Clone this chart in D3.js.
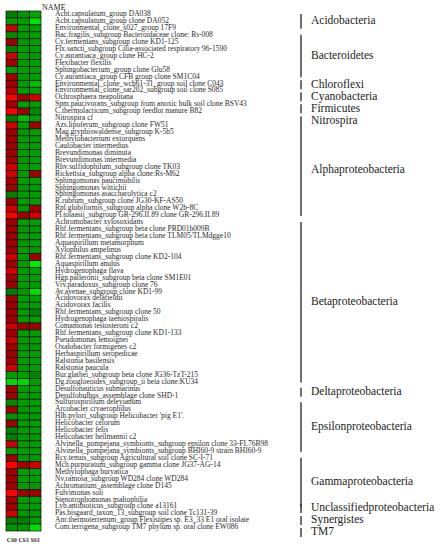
<!DOCTYPE html>
<html><head><meta charset="utf-8">
<script src="https://cdn.jsdelivr.net/npm/d3@7"></script>
<style>html,body{margin:0;padding:0;background:#fff;}svg{display:block;}</style>
</head><body>
<svg id="chart" width="441" height="550"></svg>
<script>
const taxa = [
"Acbt.capsulatum_group DA038",
"Acbt.capsulatum_group clone DA052",
"Environmental_clone_s027_group 17F9",
"Bac.fragilis_subgroup Bacteroidaceae clone: Rs-008",
"Cy.fermentans_subgroup clone KD1-125",
"Flx.sancti_subgroup Cilia-associated respiratory 96-1590",
"Cy.aurantiaca_group clone HC-2",
"Flexibacter flexilis",
"Sphingobacterium_group clone Glu58",
"Cy.aurantiaca_group CFB group clone SM1C04",
"Environmental_clone_wcb61-31_group soil clone C043",
"Environmental_clone_sar202_subgroup soil clone S085",
"Ochrosphaera neapolitana",
"Spm.paucivorans_subgroup from anoxic bulk soil clone BSV43",
"C.thermolacticum_subgroup feedlot manure B82",
"Nitrospira cf",
"Azs.lipoferum_subgroup clone FW51",
"Mag.gryphiswaldense_subgroup K-5b5",
"Methylobacterium extorquens",
"Caulobacter intermedius",
"Brevundimonas diminuta",
"Brevundimonas intermedia",
"Rhv.sulfidophilum_subgroup clone TK03",
"Rickettsia_subgroup alpha clone:Rs-M62",
"Sphingomonas paucimobilis",
"Sphingomonas wittichii",
"Sphingomonas asaccharolytica c2",
"R.rubrum_subgroup clone JG30-KF-AS50",
"Rpl.globiformis_subgroup alpha clone W2b-8C",
"Pl.tolaasii_subgroup GR-296.II.89 clone GR-296.II.89",
"Achromobacter xylosoxidans",
"Rhf.fermentans_subgroup beta clone PRD01b009B",
"Rhf.fermentans_subgroup beta clone TLM05/TLMdgge10",
"Aquaspirillum metamorphum",
"Xylophilus ampelinus",
"Rhf.fermentans_subgroup clone KD2-104",
"Aquaspirillum anulus",
"Hydrogenophaga flava",
"Hgp.palleronii_subgroup beta clone SM1E01",
"Vrv.paradoxus_subgroup clone 76",
"Av.avenae_subgroup clone KD1-99",
"Acidovorax delafieldii",
"Acidovorax facilis",
"Rhf.fermentans_subgroup clone 50",
"Hydrogenophaga taeniospiralis",
"Comamonas testosteroni c2",
"Rhf.fermentans_subgroup clone KD1-133",
"Pseudomonas lemoignei",
"Oxalobacter formigenes c2",
"Herbaspirillum seropedicae",
"Ralstonia basilensis",
"Ralstonia paucula",
"Bur.glathei_subgroup beta clone JG36-TzT-215",
"Dg.zoogloeoides_subgroup_ii beta clone:KU34",
"Desulfonauticus submarinus",
"Desulfobulbus_assemblage clone SHD-1",
"Sulfurospirillum deleyianum",
"Arcobacter cryaerophilus",
"Hlb.pylori_subgroup Helicobacter 'pig E1'.",
"Helicobacter celorum",
"Helicobacter felis",
"Helicobacter heilmannii c2",
"Alvinella_pompejana_symbionts_subgroup epsilon clone 33-FL76B98",
"Alvinella_pompejana_symbionts_subgroup BHI60-9 strain BHI60-9",
"Rcy.tenuis_subgroup Agricultural soil clone SC-I-71",
"Mch.purpuratum_subgroup gamma clone JG37-AG-14",
"Methylophaga buryatica",
"Nv.ramosa_subgroup WD284 clone WD284",
"Achromatium_assemblage clone D145",
"Fulvimonas soli",
"Stenotrophomonas maltophilia",
"Lyb.antibioticus_subgroup clone a13161",
"Pas.bisgaard_taxon_13_subgroup soil clone Tc131-39",
"Anr.thermoterrenum_group Flexistipes sp. E3_33 E1 oral isolate",
"Com.terrigena_subgroup TM7 phylum sp. oral clone EW086"
];

const samples = ["CS0", "CS3", "SS3"];

// relative abundance score (negative = red, positive = green)
const CS0 = [
 0.50, 0.62,-0.82, 0.55,-0.63, 0.50,-0.82,-0.63, 0.62,-0.63,
-0.63,-0.75,-1.00,-0.63,-1.00, 0.50,-0.82,-0.63,-0.63,-0.63,
-0.63,-0.63,-0.82,-0.82,-0.63,-0.63, 0.50,-0.63,-0.82,-1.00,
-0.63,-0.63,-0.63,-0.63,-0.63,-0.82,-0.63,-0.82,-0.63,-0.63,
 0.50,-0.63,-0.63,-0.63,-0.63,-0.82,-0.63,-0.82,-0.63,-0.63,
-0.63,-0.82, 0.62, 0.85,-0.63,-0.63, 0.55,-0.63, 0.58,-0.63,
 0.50, 0.50,-0.82, 0.62,-0.63,-1.00,-0.63,-0.63,-0.63,-1.00,
-0.63,-0.63,-0.82, 0.50, 0.58
];
const CS3 = [
 0.60, 0.62, 0.62, 0.60, 0.60, 0.62, 0.62, 0.60, 0.62, 0.60,
 0.62, 0.62,-0.63, 0.62,-0.63, 0.75, 0.62, 0.60, 0.62, 0.62,
 0.62, 0.60, 0.62, 0.60, 0.62, 0.60, 0.62, 0.62, 0.60,-0.63,
 0.62, 0.60, 0.62, 0.60, 0.62, 0.60, 0.62, 0.60, 0.62, 0.62,
 0.60, 0.62, 0.62, 0.62, 0.62,-0.63, 0.62, 0.62, 0.60, 0.62,
 0.62, 0.60, 0.62, 0.85, 0.62, 0.62, 0.62, 0.60, 0.62, 0.62,
 0.62, 0.60, 0.62, 0.62, 0.60,-0.63, 0.62, 0.62, 0.62,-0.63,
 0.62, 0.62, 0.60, 0.50, 0.60
];
const SS3 = [
 0.66, 0.88, 0.62, 0.62, 0.62, 0.62, 0.60, 0.62, 0.62, 0.62,
 0.75, 0.62,-0.82, 0.62, 0.55, 0.62,-0.63, 0.62, 0.60, 0.62,
 0.62, 0.62, 0.62,-0.63, 0.62, 0.60, 0.62, 0.62,-0.63,-0.82,
 0.62, 0.60, 0.62, 0.62, 0.60,-0.63, 0.92, 0.62, 0.62, 0.60,
 0.88, 0.62, 0.62, 0.52, 0.62,-0.63, 0.62, 0.62, 0.60, 0.62,
 0.62, 0.62, 0.52, 0.62, 0.62, 0.60, 0.62, 0.62, 0.60, 0.62,
 0.62, 0.60, 0.62, 0.62, 0.60,-0.82, 0.62, 0.62, 0.60,-0.63,
 0.62, 0.62, 0.60, 0.62, 0.88
];

const groupNames = ["Acidobacteria","Bacteroidetes","Chloroflexi","Cyanobacteria","Firmicutes","Nitrospira",
  "Alphaproteobacteria","Betaproteobacteria","Deltaproteobacteria","Epsilonproteobacteria",
  "Gammaproteobacteria","Unclassifiedproteobacteria","Synergistes","TM7"];
const groupFirst = [0, 3, 10, 12, 13, 15, 16, 30, 54, 56, 64, 72, 73, 74];
const groupLast  = [2, 9, 11, 12, 14, 15, 29, 53, 55, 63, 71, 72, 73, 74];

const svg = d3.select("#chart");
const y = d3.scaleBand().domain(d3.range(taxa.length)).range([11, 531]).padding(0);
const x = d3.scaleBand().domain(samples).range([6, 41]).padding(0);
const color = d3.scaleLinear().domain([-1, 0, 1]).range(["#ff0000", "#000000", "#00ff00"]);

const series = [CS0, CS3, SS3];
const cells = [];
samples.forEach((s, j) => series[j].forEach((v, i) => cells.push({s, i, v})));

svg.append("g").selectAll("rect").data(cells).join("rect")
  .attr("x", d => x(d.s)).attr("y", d => y(d.i))
  .attr("width", x.bandwidth()).attr("height", y.bandwidth())
  .attr("fill", d => color(d.v))
  .attr("stroke", "#111").attr("stroke-width", 0.7);

const serif = "'Liberation Serif','DejaVu Serif',serif";

svg.append("text").attr("x", 42).attr("y", 7.8).attr("dominant-baseline", "middle")
  .attr("font-family", serif).attr("font-size", 8).attr("fill", "#222").text("NAME");

svg.append("g").selectAll("text").data(taxa).join("text")
  .attr("x", 55).attr("y", (d, i) => y(i) + y.bandwidth() / 2)
  .attr("dominant-baseline", "middle")
  .attr("font-family", serif).attr("font-size", 7.5).attr("fill", "#2a2a2a")
  .text(d => d);

svg.append("g").selectAll("text").data(samples).join("text")
  .attr("x", d => x(d) + x.bandwidth() / 2).attr("y", 540.5)
  .attr("text-anchor", "middle").attr("dominant-baseline", "middle")
  .attr("font-family", serif).attr("font-size", 5.6).attr("font-weight", "bold").attr("fill", "#222")
  .text(d => d);

// group annotations: centred on their rows, spread apart where they crowd
const h = y.bandwidth();
const gs = groupNames.map((n, k) => {
  const a = groupFirst[k], b = groupLast[k];
  return {n, a, b, c: (y(a) + y(b) + h) / 2, span: b - a + 1};
});
const minGap = 12;
let clusters = gs.map(g => ({items: [g]}));
function place(cl) {
  const m = d3.mean(cl.items, d => d.c);
  const n = cl.items.length;
  cl.items.forEach((d, i) => d.ly = m + (i - (n - 1) / 2) * minGap);
}
clusters.forEach(place);
let merged = true;
while (merged) {
  merged = false;
  for (let i = 0; i < clusters.length - 1; i++) {
    const A = clusters[i], B = clusters[i + 1];
    if (B.items[0].ly - A.items[A.items.length - 1].ly < minGap) {
      A.items = A.items.concat(B.items);
      clusters.splice(i + 1, 1);
      place(A);
      merged = true;
      break;
    }
  }
}
const gg = svg.append("g");
gg.selectAll("line").data(gs).join("line")
  .attr("x1", 301).attr("x2", 301)
  .attr("y1", d => d.ly - Math.max(d.span * h / 2 - 3, 4.5))
  .attr("y2", d => d.ly + Math.max(d.span * h / 2 - 3, 4.5))
  .attr("stroke", "#333").attr("stroke-width", 1.4);
gg.selectAll("text").data(gs).join("text")
  .attr("x", 311).attr("y", d => d.ly)
  .attr("dominant-baseline", "middle")
  .attr("font-family", serif).attr("font-size", 11.5).attr("fill", "#222")
  .text(d => d.n);
</script>
</body></html>
